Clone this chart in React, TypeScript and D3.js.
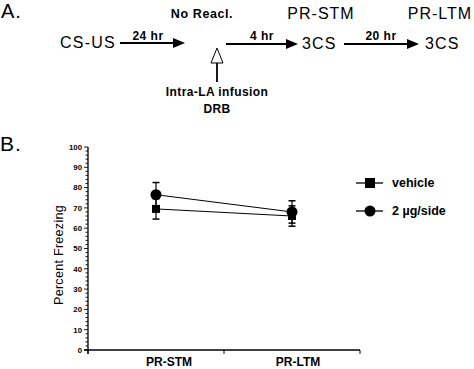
import React from "react";
import * as d3 from "d3";

const categories = ["PR-STM", "PR-LTM"];
const vehicleMean = [69.5, 66];
const vehicleErr = [5, 5];
const drugMean = [76.5, 68];
const drugErr = [6, 5.5];
const yMajorTicks = [0, 10, 20, 30, 40, 50, 60, 70, 80, 90, 100];
const seriesNames = ["vehicle", "2 \u00b5g/side"];

const W = 474, H = 369;
const X0 = 88, X1 = 360, Y0 = 350, Y1 = 147;

export default function App() {
  const y = d3.scaleLinear().domain([0, 100]).range([Y0, Y1]);
  const x = d3.scalePoint<string>().domain(categories).range([X0, X1]).padding(0.5);
  const minor = d3.range(0, 101, 2);
  const line = d3.line<[number, number]>().x(d => d[0]).y(d => d[1]);
  const vehPts: [number, number][] = categories.map((c, i) => [x(c)!, y(vehicleMean[i])]);
  const drugPts: [number, number][] = categories.map((c, i) => [x(c)!, y(drugMean[i])]);
  const font = "Arial, 'Liberation Sans', Helvetica, sans-serif";

  const arrow = (xa: number, xb: number, yy: number) => (
    <g>
      <line x1={xa} y1={yy} x2={xb - 10} y2={yy} stroke="#000" strokeWidth={2} />
      <path d={`M${xb - 12},${yy - 5} L${xb},${yy} L${xb - 12},${yy + 5} Z`} fill="#000" />
    </g>
  );

  const errBar = (cx: number, m: number, e: number) => (
    <g stroke="#000" strokeWidth={1.2}>
      <line x1={cx} x2={cx} y1={y(m + e)} y2={y(m - e)} />
      <line x1={cx - 3.5} x2={cx + 3.5} y1={y(m + e)} y2={y(m + e)} strokeWidth={1.5} />
      <line x1={cx - 3.5} x2={cx + 3.5} y1={y(m - e)} y2={y(m - e)} strokeWidth={1.5} />
    </g>
  );

  return (
    <svg width={W} height={H} style={{ position: "absolute", left: 0, top: 0, background: "#fff" }} fontFamily={font}>
      <rect width={W} height={H} fill="#fff" />
      {/* Panel A */}
      <text x={1} y={18} fontSize={20} letterSpacing={1}>A.</text>
      <text x={202} y={18} fontSize={12.5} fontWeight="bold" textAnchor="middle" letterSpacing={0.6}>No Reacl.</text>
      <text x={321} y={19} fontSize={16} textAnchor="middle" letterSpacing={1}>PR-STM</text>
      <text x={440} y={19} fontSize={16} textAnchor="middle" letterSpacing={1}>PR-LTM</text>
      <text x={60} y={48} fontSize={16} letterSpacing={1.2}>CS-US</text>
      {arrow(120, 185, 43)}
      <text x={148} y={40} fontSize={12} fontWeight="bold" textAnchor="middle" letterSpacing={0.5}>24 hr</text>
      <path d="M217,48 L223,63 L211,63 Z" fill="#fff" stroke="#000" strokeWidth={1} />
      <line x1={217} y1={63} x2={217} y2={82} stroke="#000" strokeWidth={1.8} />
      <text x={217} y={96} fontSize={12} fontWeight="bold" textAnchor="middle" letterSpacing={0.4}>Intra-LA infusion</text>
      <text x={217} y={113} fontSize={12} fontWeight="bold" textAnchor="middle" letterSpacing={0.4}>DRB</text>
      {arrow(226, 298, 44)}
      <text x={262} y={40} fontSize={12} fontWeight="bold" textAnchor="middle" letterSpacing={0.5}>4 hr</text>
      <text x={302} y={49} fontSize={16} letterSpacing={1.2}>3CS</text>
      {arrow(344, 419, 44)}
      <text x={381} y={40} fontSize={12} fontWeight="bold" textAnchor="middle" letterSpacing={0.5}>20 hr</text>
      <text x={425} y={49} fontSize={16} letterSpacing={1.2}>3CS</text>

      {/* Panel B */}
      <text x={0} y={151} fontSize={21} letterSpacing={1}>B.</text>
      {/* y axis */}
      <line x1={X0} x2={X0} y1={Y1} y2={Y0 + 4} stroke="#000" strokeWidth={1.3} />
      {minor.map(v => (
        <line key={"m" + v} x1={X0 - (v % 10 === 0 ? 4 : 2.5)} x2={X0} y1={y(v)} y2={y(v)} stroke="#000" strokeWidth={0.9} />
      ))}
      {yMajorTicks.map(v => (
        <text key={"t" + v} x={X0 - 6} y={y(v) + 2.8} fontSize={7.8} fontWeight="bold" textAnchor="end">{v}</text>
      ))}
      <text transform={`translate(63,255) rotate(-90)`} fontSize={12.5} textAnchor="middle" letterSpacing={0.3}>Percent Freezing</text>
      {/* x axis */}
      <line x1={X0 - 4} x2={X1} y1={Y0} y2={Y0} stroke="#000" strokeWidth={1.3} />
      {[X0, (X0 + X1) / 2, X1].map((t, i) => (
        <line key={"xt" + i} x1={t} x2={t} y1={Y0} y2={Y0 + 4} stroke="#000" strokeWidth={1} />
      ))}
      {categories.map((c, i) => (
        <text key={c} x={x(c)! + (i === 0 ? 13 : 6)} y={365.5} fontSize={12} fontWeight="bold" textAnchor="middle">{c}</text>
      ))}
      {/* lines */}
      <path d={line(vehPts)!} fill="none" stroke="#000" strokeWidth={1} />
      <path d={line(drugPts)!} fill="none" stroke="#000" strokeWidth={1} />
      {categories.map((c, i) => (
        <g key={"e" + c}>
          {errBar(x(c)!, vehicleMean[i], vehicleErr[i])}
          {errBar(x(c)!, drugMean[i], drugErr[i])}
        </g>
      ))}
      {vehPts.map((p, i) => (
        <rect key={"s" + i} x={p[0] - 4} y={p[1] - 4} width={8} height={8} fill="#000" />
      ))}
      {drugPts.map((p, i) => (
        <circle key={"c" + i} cx={p[0]} cy={p[1]} r={5.5} fill="#000" />
      ))}
      {/* legend */}
      <g>
        <line x1={356} x2={383} y1={183} y2={183} stroke="#000" strokeWidth={1.3} />
        <rect x={365} y={178} width={10} height={10} fill="#000" />
        <text x={392} y={187} fontSize={12.5} fontWeight="bold">{seriesNames[0]}</text>
        <line x1={356} x2={383} y1={211} y2={211} stroke="#000" strokeWidth={1.3} />
        <circle cx={370} cy={211} r={5.5} fill="#000" />
        <text x={392} y={215} fontSize={12.5} fontWeight="bold">{seriesNames[1]}</text>
      </g>
    </svg>
  );
}
